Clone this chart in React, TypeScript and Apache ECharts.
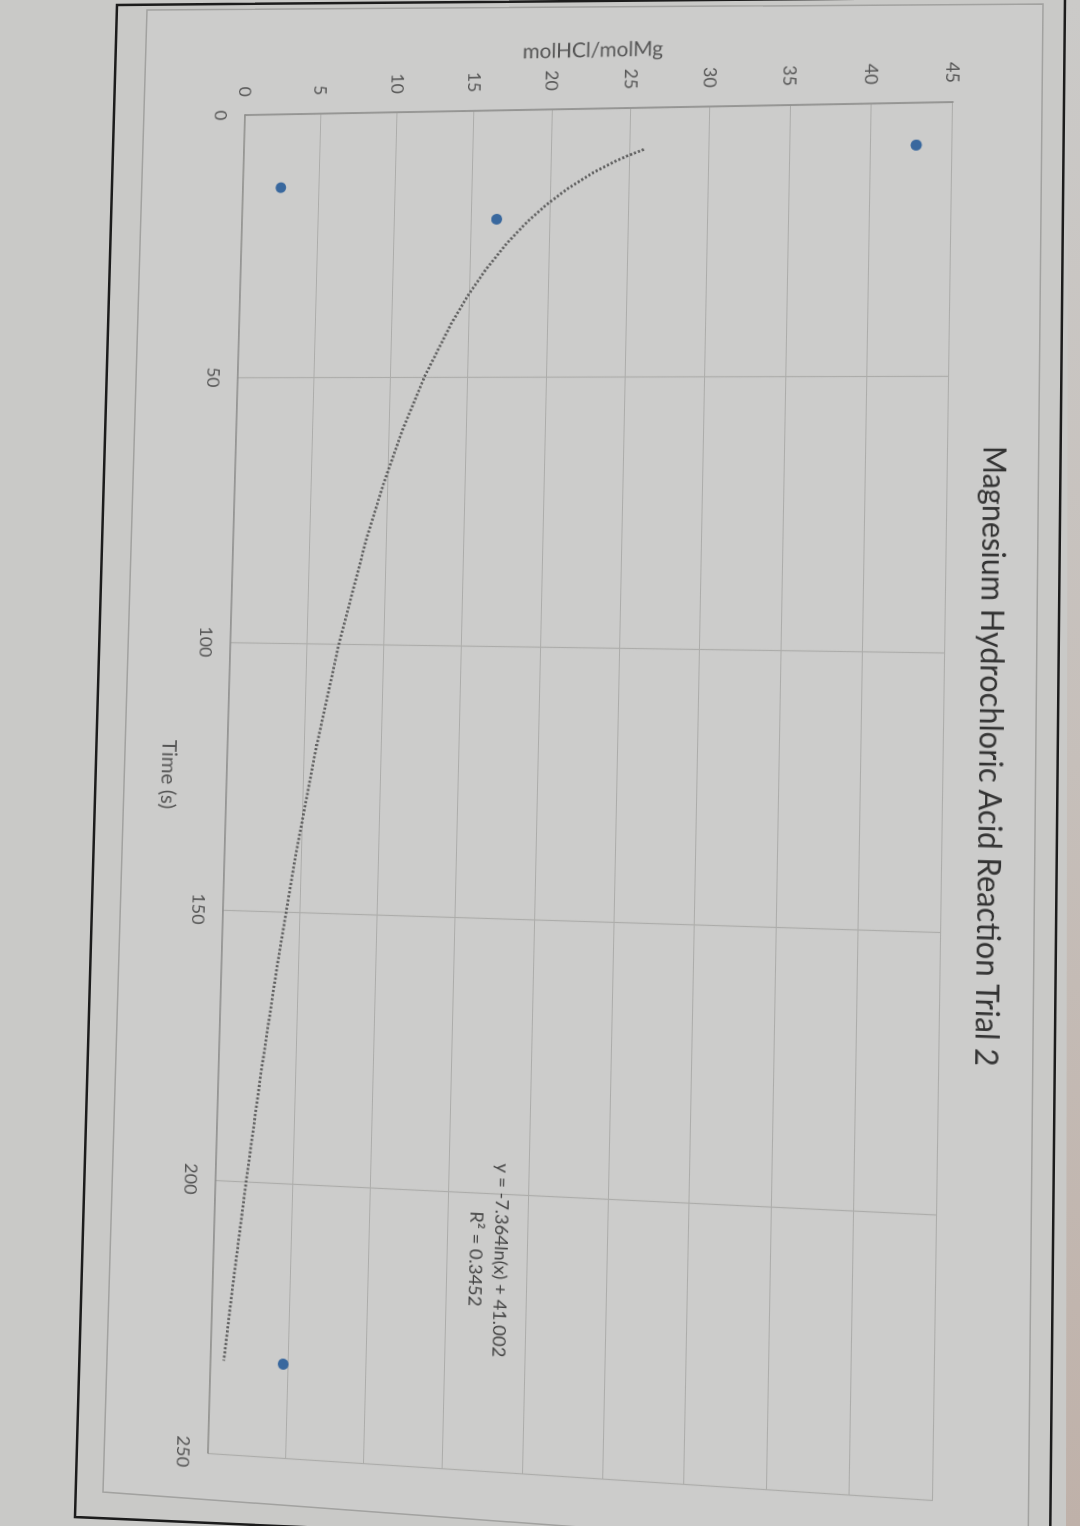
import React, { useEffect, useRef } from "react";
import * as echarts from "echarts";

// ---------- data ----------
const TITLE = "Magnesium Hydrochloric Acid Reaction Trial 2";
const X_NAME = "Time (s)";
const Y_NAME = "molHCl/molMg";

const TIME_S = [7.8, 14, 20.5, 233];
const MOL_RATIO = [42.8, 2.5, 16.6, 4.7];

// logarithmic trend line as drawn (dotted grey curve)
const TREND_T = [7.8, 9, 10, 12, 15, 18, 21, 25, 30, 35, 40, 50, 60, 70, 80, 100, 120, 140, 160, 180, 200, 220, 233];
const TREND_V = [25.88, 24.82, 24.04, 22.7, 21.06, 19.72, 18.58, 17.3, 15.96, 14.82, 13.84, 12.19, 10.85, 9.72, 8.73, 7.09, 5.75, 4.61, 3.63, 2.76, 1.99, 1.28, 0.86];
const TREND_LABEL = ["y = -7.364ln(x) + 41.002", "R² = 0.3452"];
const TREND_LABEL_AT = [212, 17.6];

const X_MIN = 0, X_MAX = 250, X_STEP = 50;
const Y_MIN = 0, Y_MAX = 45, Y_STEP = 5;

// ---------- layout ----------
const CW = 1526, CH = 1080;
const GRID = { left: 110, right: 56, top: 140, bottom: 226 };
const GL = GRID.left, GR = CW - GRID.right, GT = GRID.top, GB = CH - GRID.bottom;
// where the plot corners sit in the photographed (rotated, tilted) screen
const SRC: number[][] = [[GL, GB], [GL, GT], [GR, GB], [GR, GT]];
const DST: number[][] = [[245, 115], [953, 102], [208, 1453], [933, 1500]];

function homography(src: number[][], dst: number[][]) {
  const A: number[][] = [];
  const b: number[] = [];
  for (let i = 0; i < 4; i++) {
    const [x, y] = src[i];
    const [X, Y] = dst[i];
    A.push([x, y, 1, 0, 0, 0, -x * X, -y * X]); b.push(X);
    A.push([0, 0, 0, x, y, 1, -x * Y, -y * Y]); b.push(Y);
  }
  const n = 8;
  for (let c = 0; c < n; c++) {
    let p = c;
    for (let r = c + 1; r < n; r++) if (Math.abs(A[r][c]) > Math.abs(A[p][c])) p = r;
    [A[c], A[p]] = [A[p], A[c]];
    [b[c], b[p]] = [b[p], b[c]];
    for (let r = 0; r < n; r++) {
      if (r === c) continue;
      const f = A[r][c] / A[c][c];
      for (let k = c; k < n; k++) A[r][k] -= f * A[c][k];
      b[r] -= f * b[c];
    }
  }
  return b.map((v, i) => v / A[i][i]);
}

const H = homography(SRC, DST);
const f = (v: number) => v.toFixed(12);
const MATRIX = `matrix3d(${f(H[0])},${f(H[3])},0,${f(H[6])},${f(H[1])},${f(H[4])},0,${f(H[7])},0,0,1,0,${f(H[2])},${f(H[5])},0,1)`;

const FONT = "Lato";

export default function App() {
  const ref = useRef<HTMLDivElement>(null);

  useEffect(() => {
    if (!ref.current) return;
    const chart = echarts.init(ref.current, null, { renderer: "svg", width: CW, height: CH });
    chart.setOption({
      animation: false,
      backgroundColor: "transparent",
      textStyle: { fontFamily: FONT },
      title: {
        text: TITLE,
        left: 446,
        top: 74,
        textStyle: { fontFamily: FONT, fontSize: 30, fontWeight: "normal", color: "#333333" },
      },
      grid: { ...GRID, containLabel: false },
      xAxis: {
        type: "value",
        min: X_MIN,
        max: X_MAX,
        interval: X_STEP,
        name: X_NAME,
        nameLocation: "middle",
        nameGap: 49,
        nameTextStyle: { fontFamily: FONT, fontSize: 21, color: "#555555" },
        axisLine: { show: true, onZero: false, lineStyle: { color: "#8e8e8c", width: 1.6 } },
        axisTick: { show: false },
        axisLabel: { fontFamily: FONT, fontSize: 18, color: "#555555", margin: 16 },
        splitLine: { show: true, lineStyle: { color: "#acacaa", width: 1.2 } },
      },
      yAxis: {
        type: "value",
        min: Y_MIN,
        max: Y_MAX,
        interval: Y_STEP,
        name: Y_NAME,
        nameLocation: "middle",
        nameGap: 45,
        nameTextStyle: { fontFamily: FONT, fontSize: 21, color: "#555555" },
        axisLine: { show: true, onZero: false, lineStyle: { color: "#8e8e8c", width: 1.6 } },
        axisTick: { show: false },
        axisLabel: { fontFamily: FONT, fontSize: 18, color: "#555555", margin: 19 },
        splitLine: { show: true, lineStyle: { color: "#acacaa", width: 1.2 } },
      },
      series: [
        {
          name: "Trend",
          type: "line",
          data: TREND_T.map((t, i) => [t, TREND_V[i]]),
          symbol: "none",
          showSymbol: false,
          smooth: false,
          lineStyle: { color: "#5e5e5e", width: 2.8, type: [2.2, 2.0], cap: "butt" },
          z: 2,
          silent: true,
          markPoint: {
            symbol: "circle",
            symbolSize: 0,
            data: [{ coord: TREND_LABEL_AT, value: 0 }],
            label: {
              show: true,
              position: "inside",
              formatter: TREND_LABEL.join("\n"),
              fontFamily: FONT,
              fontSize: 18,
              lineHeight: 25,
              color: "#444444",
              align: "center",
            },
          },
        },
        {
          name: "molHCl/molMg",
          type: "scatter",
          data: TIME_S.map((t, i) => [t, MOL_RATIO[i]]),
          symbol: "circle",
          symbolSize: 11,
          itemStyle: { color: "#144f92" },
          z: 3,
        },
      ],
    });
    return () => chart.dispose();
  }, []);

  return (
    <div
      style={{
        position: "absolute",
        left: 0,
        top: 0,
        width: 1080,
        height: 1526,
        overflow: "hidden",
        background: "#c9c9c7",
      }}
    >
      <svg width={1080} height={1526} style={{ position: "absolute", left: 0, top: 0 }}>
        <defs>
          <linearGradient id="bezel" x1="0" y1="0" x2="0" y2="1">
            <stop offset="0" stopColor="#cbcac8" />
            <stop offset="0.5" stopColor="#c6bfba" />
            <stop offset="1" stopColor="#bfb1a9" />
          </linearGradient>
        </defs>
        <polygon points="1068,0 1080,0 1080,1526 1066,1526" fill="url(#bezel)" />
        <polygon points="147,10 1043,4 1028,1560 103,1492" fill="#cccccb" stroke="#a2a2a0" strokeWidth={1.5} />
        <polygon points="117,5 1065,-3 1050,1560 75,1517" fill="none" stroke="#1c1c1c" strokeWidth={2.5} />
      </svg>
      <div
        ref={ref}
        style={{
          position: "absolute",
          left: 0,
          top: 0,
          width: CW,
          height: CH,
          transformOrigin: "0 0",
          transform: MATRIX,
        }}
      />
    </div>
  );
}
